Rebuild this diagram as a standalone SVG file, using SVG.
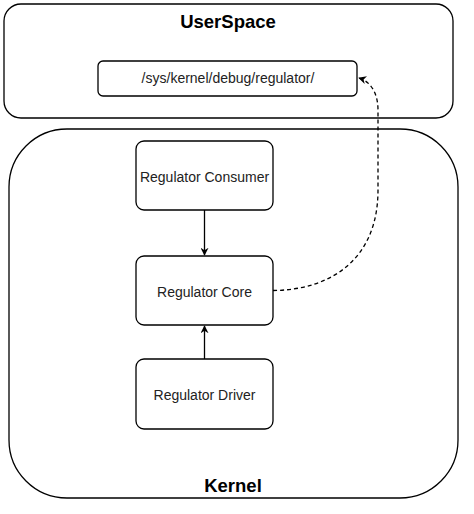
<svg xmlns="http://www.w3.org/2000/svg" width="474" height="514" viewBox="0 0 474 514">
<defs>
<style>
.box{fill:#fff;stroke:#000;stroke-width:1.3}
.lbl{font-family:"Liberation Sans",Arial,sans-serif;font-size:14px;fill:#222;text-anchor:middle}
.title{font-family:"Liberation Sans",Arial,sans-serif;font-size:18.5px;font-weight:bold;fill:#000;text-anchor:middle}
.edge{fill:none;stroke:#000;stroke-width:1.3}
</style>
<marker id="arr" viewBox="0 0 10 10" refX="9" refY="5" markerWidth="8" markerHeight="8" orient="auto" markerUnits="userSpaceOnUse">
<path d="M0,0 L10,5 L0,10 L3,5 Z" fill="#000"/>
</marker>
</defs>
<rect width="474" height="514" fill="#fff"/>
<g id="userspace">
<rect class="box" x="4" y="4" width="449" height="114" rx="17"/>
<text class="title" x="228" y="28">UserSpace</text>
</g>
<g id="kernel">
<rect class="box" x="9" y="129" width="449" height="369" rx="58"/>
<text class="title" x="233" y="492">Kernel</text>
</g>
<g id="debugfs">
<rect class="box" x="98" y="61" width="259" height="35" rx="5"/>
<text class="lbl" x="228" y="83">/sys/kernel/debug/regulator/</text>
</g>
<g id="consumer">
<rect class="box" x="136" y="141" width="137" height="69" rx="8"/>
<text class="lbl" x="204.5" y="182">Regulator Consumer</text>
</g>
<g id="core">
<rect class="box" x="136" y="256" width="137" height="69" rx="8"/>
<text class="lbl" x="204.5" y="297">Regulator Core</text>
</g>
<g id="driver">
<rect class="box" x="136" y="359" width="137" height="70" rx="8"/>
<text class="lbl" x="204.5" y="400">Regulator Driver</text>
</g>
<g id="connectors">
<path class="edge" d="M204.5,210 L204.5,255" marker-end="url(#arr)"/>
<path class="edge" d="M204.5,359 L204.5,326" marker-end="url(#arr)"/>
<path class="edge" d="M273,290.5 C330,290 378,260 378,190 L378,110 C378,95 372,82 359,78" stroke-dasharray="4,3" marker-end="url(#arr)"/>
</g>
</svg>
